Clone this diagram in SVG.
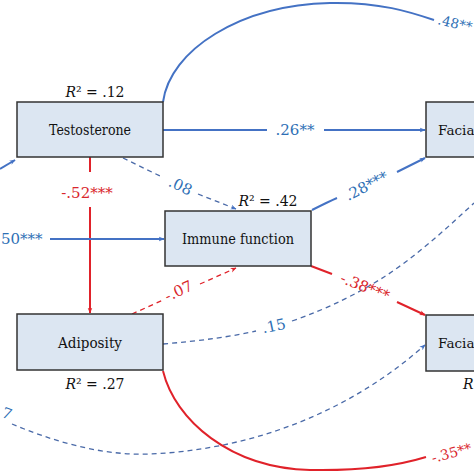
<svg xmlns="http://www.w3.org/2000/svg" width="474" height="474" viewBox="0 0 474 474">
<style>
text{font-family:'DejaVu Serif','Liberation Serif',serif}
.box{fill:#dce6f2;stroke:#333;stroke-width:1.5}
.lbl{font-size:15px;fill:#111}
.r2{font-size:14px;fill:#111}
.b{stroke:#4472c4;fill:none;stroke-width:2}
.bd{stroke:#4a6aa8;fill:none;stroke-width:1.3;stroke-dasharray:5,4}
.r{stroke:#e0222a;fill:none;stroke-width:2}
.rd{stroke:#e0222a;fill:none;stroke-width:1.3;stroke-dasharray:5,4}
.eb{font-size:15px;fill:#2e6fb5}
.er{font-size:15px;fill:#d9262c}
</style>
<defs>
<marker id="ab" viewBox="0 0 10 10" refX="9" refY="5" markerWidth="6" markerHeight="6" orient="auto" markerUnits="userSpaceOnUse"><path d="M0,1 L10,5 L0,9 L3,5 z" fill="#4472c4"/></marker>
<marker id="ar" viewBox="0 0 10 10" refX="9" refY="5" markerWidth="6" markerHeight="6" orient="auto" markerUnits="userSpaceOnUse"><path d="M0,1 L10,5 L0,9 L3,5 z" fill="#e0222a"/></marker>
</defs>
<rect width="474" height="474" fill="#fff"/>
<g id="connectors">
<path class="b" d="M163,102 C170,50 240,5 330,3 C380,2 410,12 434,20"/>
<path class="b" d="M163,130 L267,130"/>
<path class="b" d="M324,130 L425,130" marker-end="url(#ab)"/>
<path class="bd" d="M123,158 L160,176"/>
<path class="bd" d="M198,194 L236,209" marker-end="url(#ab)"/>
<path class="r" d="M90,157 L90,172"/>
<path class="r" d="M90,207 L90,313" marker-end="url(#ar)"/>
<path class="b" d="M50,239 L164,239" marker-end="url(#ab)" stroke-width="1.5"/>
<path class="b" d="M0,169 L15,160" marker-end="url(#ab)" stroke-width="1.5"/>
<path class="b" d="M312,210 C320,206 330,201 337,198"/>
<path class="b" d="M397,172 C405,168 415,163 425,158" marker-end="url(#ab)"/>
<path class="r" d="M311,266 L332,274"/>
<path class="r" d="M397,302 L425,315" marker-end="url(#ar)"/>
<path class="rd" d="M132,314 L163,300"/>
<path class="rd" d="M200,284 L236,268" marker-end="url(#ar)"/>
<path class="bd" d="M163,344 C200,341 235,336 256,331"/>
<path class="bd" d="M292,321 C330,308 360,292 384,277 C415,257 445,230 474,203"/>
<path class="bd" d="M12,424 C50,440 100,456 150,454 C240,450 340,420 425,345" marker-end="url(#ab)"/>
<path class="r" d="M163,371 C175,420 230,468 310,470 C360,471 400,465 426,457"/>
</g>
<g id="labels">
<text class="eb" x="437" y="24" style="font-size:13.5px" transform="rotate(13 437 24)">.48**</text>
<text class="eb" x="295" y="135" text-anchor="middle">.26**</text>
<text class="eb" x="180" y="191" text-anchor="middle" transform="rotate(25 180 187)">.08</text>
<text class="er" x="87" y="198" text-anchor="middle">-.52***</text>
<text class="eb" x="1" y="244">50***</text>
<text class="eb" x="367" y="191" text-anchor="middle" transform="rotate(-27 367 187)">.28***</text>
<text class="er" x="365" y="292" text-anchor="middle" transform="rotate(22 365 287)">-.38***</text>
<text class="er" x="179" y="296" text-anchor="middle" transform="rotate(-25 179 292)">-.07</text>
<text class="eb" x="274" y="331" text-anchor="middle" transform="rotate(-12 274 326)">.15</text>
<text class="eb" x="2" y="417" transform="rotate(20 2 413)">7</text>
<text class="er" x="433" y="463" style="font-size:14px" transform="rotate(-15 433 463)">-.35**</text>
</g>
<g id="testosterone">
<rect class="box" x="17" y="102" width="146" height="55"/>
<text class="lbl" x="49" y="135" textLength="82" lengthAdjust="spacingAndGlyphs">Testosterone</text>
<text class="r2" x="95" y="97" text-anchor="middle"><tspan font-style="italic">R</tspan>² = .12</text>
</g>
<g id="immune">
<rect class="box" x="165" y="211" width="146" height="55"/>
<text class="lbl" x="182" y="244" textLength="112" lengthAdjust="spacingAndGlyphs">Immune function</text>
<text class="r2" x="268" y="206" text-anchor="middle"><tspan font-style="italic">R</tspan>² = .42</text>
</g>
<g id="adiposity">
<rect class="box" x="17" y="314" width="146" height="56"/>
<text class="lbl" x="58" y="348" textLength="64" lengthAdjust="spacingAndGlyphs">Adiposity</text>
<text class="r2" x="95" y="389" text-anchor="middle"><tspan font-style="italic">R</tspan>² = .27</text>
</g>
<g id="facial-top">
<rect class="box" x="426" y="102" width="80" height="55"/>
<text class="lbl" x="438" y="135" style="font-size:13.5px">Facia</text>
</g>
<g id="facial-bottom">
<rect class="box" x="426" y="315" width="80" height="56"/>
<text class="lbl" x="438" y="348" style="font-size:13.5px">Facia</text>
<text class="r2" x="463" y="389" font-style="italic">R</text>
</g>
</svg>
